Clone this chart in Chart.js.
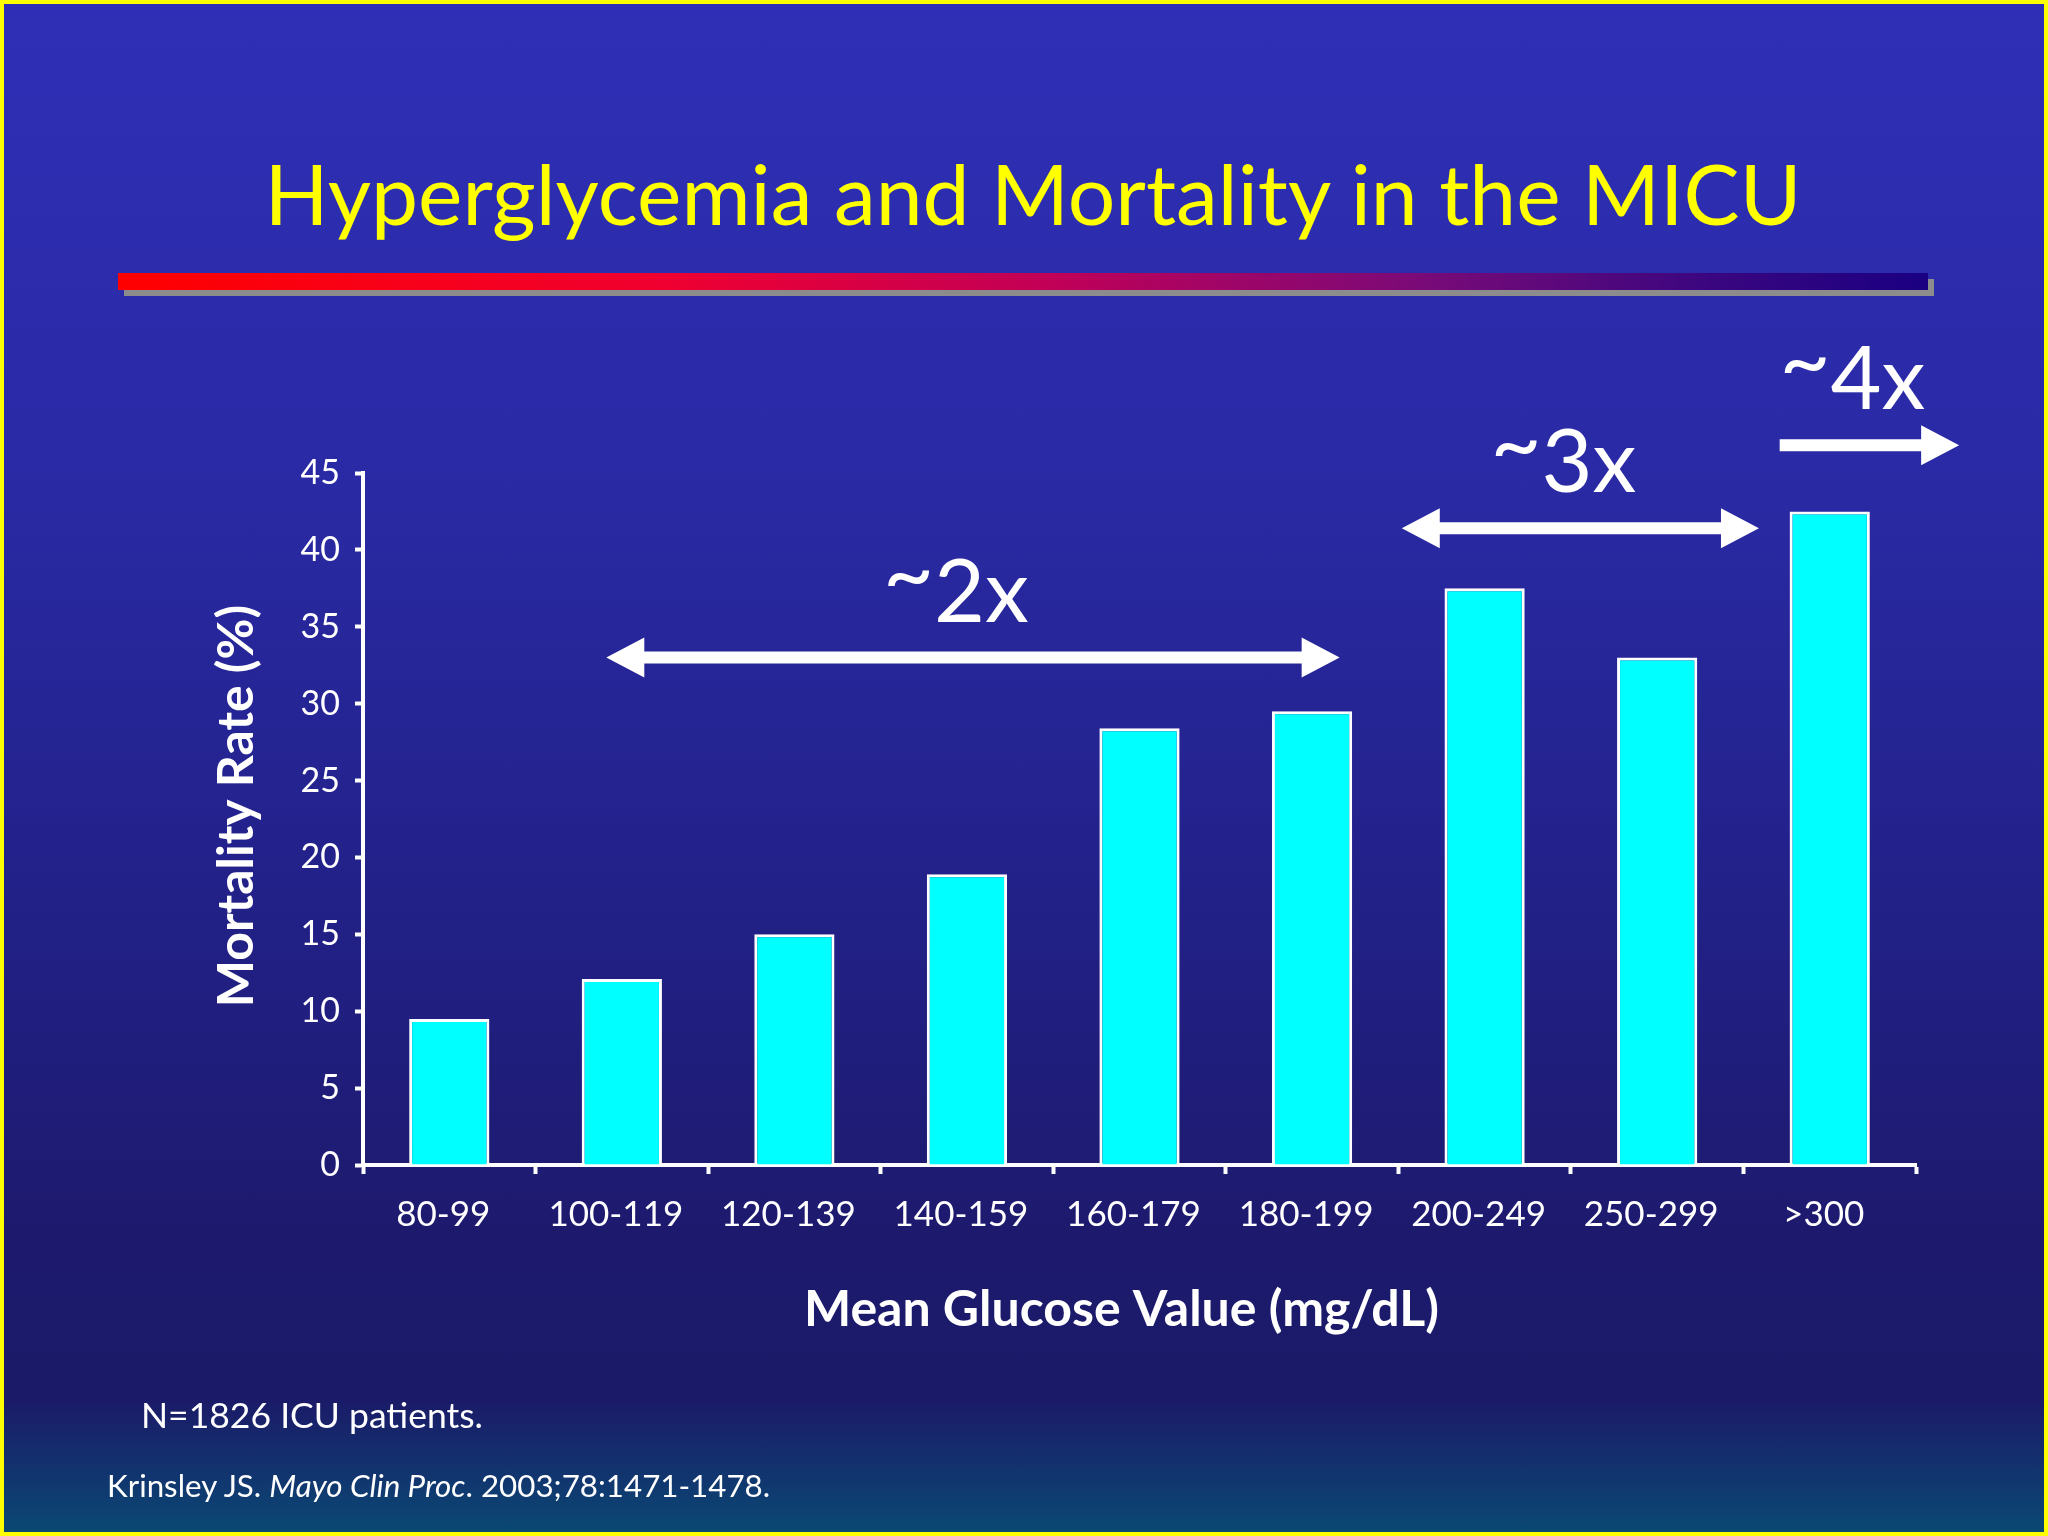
<!DOCTYPE html>
<html lang="en">
<head>
<meta charset="UTF-8" />
<title>Hyperglycemia and Mortality in the MICU</title>
<script src="https://cdn.jsdelivr.net/npm/chart.js"></script>
<style>
  html, body { margin: 0; padding: 0; }
  body {
    width: 2048px;
    height: 1536px;
    position: relative;
    overflow: hidden;
    font-family: Lato, 'Open Sans', sans-serif;
    background: linear-gradient(180deg, #2e2fb6 0%, #2a2aa6 30%, #23228c 55%, #1d1a6e 80%, #1b1a68 91%, #0a4a74 100%);
  }
  .frame {
    position: absolute; left: 0; top: 0; width: 2048px; height: 1536px;
    border: 4px solid #ffff00; box-sizing: border-box; pointer-events: none;
  }
  .title {
    position: absolute; left: 0; width: 2066px; top: 151px;
    text-align: center; color: #ffff00; font-size: 84px; line-height: 84px;
  }
  .rule {
    position: absolute; left: 118px; top: 273px; width: 1810px; height: 17px;
    background: linear-gradient(90deg, #ff0000 0%, #f00030 30%, #c00058 52%, #7a0a78 72%, #3a0680 88%, #1a0082 100%);
    box-shadow: 6px 6px 0 #8c8c8c;
  }
  .note {
    position: absolute; color: #ffffff; white-space: nowrap;
  }
  #chart { position: absolute; left: 0; top: 0; }
</style>
</head>
<body>
  <div class="title">Hyperglycemia and Mortality in the MICU</div>
  <div class="rule"></div>
  <canvas id="chart" width="2048" height="1536"></canvas>
  <div class="note" style="left:141px; top:1397px; font-size:35.5px; line-height:35.5px;">N=1826 ICU patients.</div>
  <div class="note" style="left:107px; top:1470px; font-size:31.3px; line-height:31.3px;">Krinsley JS. <i>Mayo Clin Proc</i>. 2003;78:1471-1478.</div>
  <div class="frame"></div>

<script>
  // glucose bands and mortality (%)
  const categories = ['80-99', '100-119', '120-139', '140-159', '160-179', '180-199', '200-249', '250-299', '>300'];
  const mortality = [9.5, 12.1, 15.0, 18.9, 28.4, 29.5, 37.5, 33.0, 42.5];
  const yMax = 45;
  const yStep = 5;

  const xTitle = 'Mean Glucose Value (mg/dL)';
  const yTitle = 'Mortality Rate (%)';

  // fold-change arrows, in category index / % units
  const arrowLabels = ['~2x', '~3x', '~4x'];
  const arrowFrom = [0.91, 5.52, 7.71];
  const arrowTo = [5.16, 7.59, 8.75];
  const arrowLevel = [33.0, 41.4, 46.8];
  const arrowTwoHeaded = [true, true, false];

  function drawArrow(ctx, x1, x2, y, both) {
    const t = 6, hl = 38, hh = 20;
    ctx.beginPath();
    if (both) {
      ctx.moveTo(x1, y);
      ctx.lineTo(x1 + hl, y - hh);
      ctx.lineTo(x1 + hl, y - t);
      ctx.lineTo(x2 - hl, y - t);
      ctx.lineTo(x2 - hl, y - hh);
      ctx.lineTo(x2, y);
      ctx.lineTo(x2 - hl, y + hh);
      ctx.lineTo(x2 - hl, y + t);
      ctx.lineTo(x1 + hl, y + t);
      ctx.lineTo(x1 + hl, y + hh);
    } else {
      ctx.moveTo(x1, y - t);
      ctx.lineTo(x2 - hl, y - t);
      ctx.lineTo(x2 - hl, y - hh);
      ctx.lineTo(x2, y);
      ctx.lineTo(x2 - hl, y + hh);
      ctx.lineTo(x2 - hl, y + t);
      ctx.lineTo(x1, y + t);
    }
    ctx.closePath();
    ctx.fill();
  }

  // axis titles, placed a little off-centre the way the slide has them
  const axisTitles = {
    id: 'axisTitles',
    afterDraw(chart) {
      const ctx = chart.ctx;
      const area = chart.chartArea;
      ctx.save();
      ctx.fillStyle = '#ffffff';
      ctx.font = 'bold 50px Lato';
      ctx.textAlign = 'center';
      ctx.textBaseline = 'alphabetic';
      ctx.fillText(xTitle, (area.left + area.right) / 2 - 18, area.bottom + 161);

      ctx.translate(area.left - 110, (area.top + area.bottom) / 2 - 13);
      ctx.rotate(-Math.PI / 2);
      ctx.fillText(yTitle, 0, 0);
      ctx.restore();
    }
  };

  const foldArrows = {
    id: 'foldArrows',
    afterDatasetsDraw(chart) {
      const ctx = chart.ctx;
      const xs = chart.scales.x, ys = chart.scales.y;
      ctx.save();
      ctx.fillStyle = '#ffffff';
      ctx.font = '88px Lato';
      ctx.textBaseline = 'alphabetic';
      ctx.textAlign = 'left';
      arrowLabels.forEach((label, i) => {
        const x1 = xs.getPixelForValue(arrowFrom[i]);
        const x2 = xs.getPixelForValue(arrowTo[i]);
        const y = ys.getPixelForValue(arrowLevel[i]);
        drawArrow(ctx, x1, x2, y, arrowTwoHeaded[i]);

        // label sits above the arrow, tilde raised like the slide font
        const tilde = label.slice(0, 1), rest = label.slice(1);
        const wT = ctx.measureText(tilde).width;
        const wR = ctx.measureText(rest).width;
        const cx = (x1 + x2) / 2 - 17;
        const base = y - 36;
        const sx = cx - (wT + wR) / 2;
        ctx.fillText(tilde, sx, base - 18);
        ctx.fillText(rest, sx + wT, base);
      });
      ctx.restore();
    }
  };

  const ctx = document.getElementById('chart').getContext('2d');

  new Chart(ctx, {
    type: 'bar',
    data: {
      labels: categories,
      datasets: [{
        data: mortality,
        backgroundColor: '#00ffff',
        borderColor: '#ffffff',
        borderWidth: 3,
        borderSkipped: 'bottom',
        categoryPercentage: 1.0,
        barPercentage: 0.465
      }]
    },
    options: {
      responsive: false,
      animation: false,
      layout: {
        padding: { left: 190, top: 473, right: 132, bottom: 190 }
      },
      plugins: {
        legend: { display: false },
        tooltip: { enabled: false }
      },
      scales: {
        x: {
          offset: true,
          afterFit(scale) { scale.height = 181; },
          grid: {
            offset: true,
            drawOnChartArea: false,
            drawTicks: true,
            tickLength: 9,
            tickWidth: 4,
            tickColor: '#ffffff'
          },
          border: { color: '#ffffff', width: 4 },
          ticks: {
            color: '#ffffff',
            font: { family: 'Lato', size: 35 },
            padding: 20,
            labelOffset: -6,
            maxRotation: 0,
            autoSkip: false
          }
        },
        y: {
          min: 0,
          max: yMax,
          afterFit(scale) { scale.width = 173; },
          grid: {
            drawOnChartArea: false,
            drawTicks: true,
            tickLength: 8,
            tickWidth: 4,
            tickColor: '#ffffff'
          },
          border: { color: '#ffffff', width: 4 },
          ticks: {
            stepSize: yStep,
            color: '#ffffff',
            font: { family: 'Lato', size: 34 },
            padding: 15
          }
        }
      }
    },
    plugins: [foldArrows, axisTitles]
  });
</script>
</body>
</html>
